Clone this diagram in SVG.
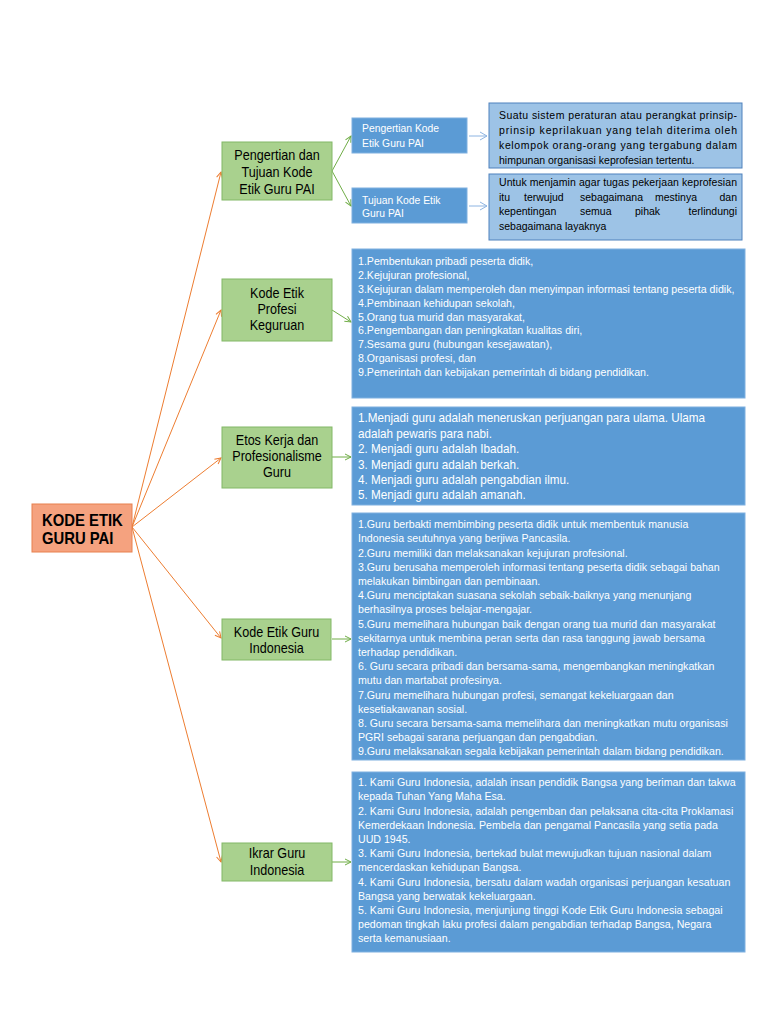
<svg xmlns="http://www.w3.org/2000/svg" width="768" height="1024" viewBox="0 0 768 1024">
<defs>
<style>
.t{font-family:"Liberation Sans",Arial,sans-serif;}
.w{fill:#ffffff;}
.k{fill:#000000;}
.root{fill:#F5A27F;stroke:#E8804E;stroke-width:1;}
.grn{fill:#A9D18E;stroke:#82B866;stroke-width:1;}
.blu{fill:#5B9BD5;stroke:#7FB0E0;stroke-width:1;}
.lbl{fill:#9DC3E6;stroke:#4F81BD;stroke-width:1;}
.co{stroke:#ED7D31;stroke-width:1;fill:none;}
.cg{stroke:#70AD47;stroke-width:1;fill:none;}
.cb{stroke:#8DB4E2;stroke-width:1;fill:none;}
</style>
<marker id="ao" markerWidth="8" markerHeight="8" refX="7" refY="4" orient="auto" markerUnits="userSpaceOnUse"><path d="M1,1 L7,4 L1,7" fill="none" stroke="#ED7D31" stroke-width="1"/></marker>
<marker id="ag" markerWidth="8" markerHeight="8" refX="7" refY="4" orient="auto" markerUnits="userSpaceOnUse"><path d="M1,1 L7,4 L1,7" fill="none" stroke="#70AD47" stroke-width="1"/></marker>
<marker id="ab" markerWidth="10" markerHeight="10" refX="8" refY="5" orient="auto" markerUnits="userSpaceOnUse"><path d="M1,1 L8,5 L1,9" fill="none" stroke="#8DB4E2" stroke-width="1"/></marker>
</defs>
<rect width="768" height="1024" fill="#ffffff"/>

<g id="connectors">
<line class="co" x1="132" y1="527" x2="221" y2="172" marker-end="url(#ao)"/>
<line class="co" x1="132" y1="527" x2="221" y2="310" marker-end="url(#ao)"/>
<line class="co" x1="132" y1="527" x2="221" y2="458" marker-end="url(#ao)"/>
<line class="co" x1="132" y1="527" x2="221" y2="638" marker-end="url(#ao)"/>
<line class="co" x1="132" y1="527" x2="221" y2="862" marker-end="url(#ao)"/>
<line class="cg" x1="332" y1="171" x2="351" y2="136" marker-end="url(#ag)"/>
<line class="cg" x1="332" y1="171" x2="351" y2="206" marker-end="url(#ag)"/>
<line class="cg" x1="332" y1="310" x2="351" y2="322" marker-end="url(#ag)"/>
<line class="cg" x1="332" y1="457" x2="351" y2="457" marker-end="url(#ag)"/>
<line class="cg" x1="332" y1="639" x2="351" y2="639" marker-end="url(#ag)"/>
<line class="cg" x1="332" y1="862" x2="351" y2="862" marker-end="url(#ag)"/>
<line class="cb" x1="469" y1="136" x2="487" y2="136" marker-end="url(#ab)"/>
<line class="cb" x1="469" y1="206" x2="487" y2="206" marker-end="url(#ab)"/>
</g>

<g id="root">
<rect class="root" x="32" y="504" width="100" height="48"/>
<g transform="translate(42 0) scale(0.9 1)">
<text class="t k" x="0" y="526" font-size="16.5" font-weight="bold">KODE ETIK</text>
<text class="t k" x="0" y="544" font-size="16.5" font-weight="bold">GURU PAI</text>
</g>
</g>

<g id="n1">
<rect class="grn" x="222" y="142" width="110" height="58"/>
<g transform="translate(277 0) scale(0.9 1)" text-anchor="middle" font-size="14">
<text class="t k" x="0" y="160">Pengertian dan</text>
<text class="t k" x="0" y="177">Tujuan Kode</text>
<text class="t k" x="0" y="194">Etik Guru PAI</text>
</g>
</g>

<g id="n2">
<rect class="grn" x="222" y="279" width="110" height="62"/>
<g transform="translate(277 0) scale(0.9 1)" text-anchor="middle" font-size="14">
<text class="t k" x="0" y="298">Kode Etik</text>
<text class="t k" x="0" y="314">Profesi</text>
<text class="t k" x="0" y="330">Keguruan</text>
</g>
</g>

<g id="n3">
<rect class="grn" x="222" y="427" width="110" height="61"/>
<g transform="translate(277 0) scale(0.9 1)" text-anchor="middle" font-size="14">
<text class="t k" x="0" y="445">Etos Kerja dan</text>
<text class="t k" x="0" y="461">Profesionalisme</text>
<text class="t k" x="0" y="477">Guru</text>
</g>
</g>

<g id="n4">
<rect class="grn" x="222" y="619" width="109" height="41"/>
<g transform="translate(276.5 0) scale(0.9 1)" text-anchor="middle" font-size="14">
<text class="t k" x="0" y="637">Kode Etik Guru</text>
<text class="t k" x="0" y="653">Indonesia</text>
</g>
</g>

<g id="n5">
<rect class="grn" x="222" y="843" width="110" height="38"/>
<g transform="translate(277 0) scale(0.9 1)" text-anchor="middle" font-size="14">
<text class="t k" x="0" y="858.5">Ikrar Guru</text>
<text class="t k" x="0" y="875.5">Indonesia</text>
</g>
</g>

<g id="s1">
<rect class="blu" x="352" y="118" width="115" height="35"/>
<g transform="translate(362 0) scale(0.9 1)" font-size="11.5">
<text class="t w" x="0" y="132">Pengertian Kode</text>
<text class="t w" x="0" y="147">Etik Guru PAI</text>
</g>
</g>

<g id="s2">
<rect class="blu" x="352" y="188" width="115" height="35"/>
<g transform="translate(362 0) scale(0.9 1)" font-size="11.5">
<text class="t w" x="0" y="204">Tujuan Kode Etik</text>
<text class="t w" x="0" y="217">Guru PAI</text>
</g>
</g>

<g id="d1">
<rect class="lbl" x="489" y="103" width="253" height="65"/>
<g font-size="10.5">
<text class="t k" x="499" y="119" textLength="238" lengthAdjust="spacing">Suatu sistem peraturan atau perangkat prinsip-</text>
<text class="t k" x="499" y="134" textLength="238" lengthAdjust="spacing">prinsip keprilakuan yang telah diterima oleh</text>
<text class="t k" x="499" y="149" textLength="238" lengthAdjust="spacing">kelompok orang-orang yang tergabung dalam</text>
<text class="t k" x="499" y="164">himpunan organisasi keprofesian tertentu.</text>
</g>
</g>

<g id="d2">
<rect class="lbl" x="489" y="174" width="253" height="66"/>
<g font-size="10.5">
<text class="t k" x="499" y="186" textLength="238" lengthAdjust="spacing">Untuk menjamin agar tugas pekerjaan keprofesian</text>
<text class="t k" x="499" y="201">itu</text>
<text class="t k" x="524" y="201">terwujud</text>
<text class="t k" x="580" y="201">sebagaimana</text>
<text class="t k" x="655" y="201">mestinya</text>
<text class="t k" x="737" y="201" text-anchor="end">dan</text>
<text class="t k" x="499" y="215">kepentingan</text>
<text class="t k" x="580" y="215">semua</text>
<text class="t k" x="635" y="215">pihak</text>
<text class="t k" x="737" y="215" text-anchor="end">terlindungi</text>
<text class="t k" x="499" y="230">sebagaimana layaknya</text>
</g>
</g>

<g id="b2">
<rect class="blu" x="352" y="249" width="393" height="149"/>
<g transform="translate(358 0) scale(0.9 1)" font-size="11.8">
<text class="t w" x="0" y="265">1.Pembentukan pribadi peserta didik,</text>
<text class="t w" x="0" y="278.9">2.Kejujuran profesional,</text>
<text class="t w" x="0" y="292.8">3.Kejujuran dalam memperoleh dan menyimpan informasi tentang peserta didik,</text>
<text class="t w" x="0" y="306.7">4.Pembinaan kehidupan sekolah,</text>
<text class="t w" x="0" y="320.6">5.Orang tua murid dan masyarakat,</text>
<text class="t w" x="0" y="334.5">6.Pengembangan dan peningkatan kualitas diri,</text>
<text class="t w" x="0" y="348.4">7.Sesama guru (hubungan kesejawatan),</text>
<text class="t w" x="0" y="362.3">8.Organisasi profesi, dan</text>
<text class="t w" x="0" y="376.2">9.Pemerintah dan kebijakan pemerintah di bidang pendidikan.</text>
</g>
</g>

<g id="b3">
<rect class="blu" x="352" y="407" width="393" height="98"/>
<g transform="translate(358 0) scale(0.9 1)" font-size="13">
<text class="t w" x="0" y="422.5">1.Menjadi guru adalah meneruskan perjuangan para ulama. Ulama</text>
<text class="t w" x="0" y="437.9">adalah pewaris para nabi.</text>
<text class="t w" x="0" y="453.3">2. Menjadi guru adalah Ibadah.</text>
<text class="t w" x="0" y="468.7">3. Menjadi guru adalah berkah.</text>
<text class="t w" x="0" y="484.1">4. Menjadi guru adalah pengabdian ilmu.</text>
<text class="t w" x="0" y="499.5">5. Menjadi guru adalah amanah.</text>
</g>
</g>

<g id="b4">
<rect class="blu" x="352" y="513" width="393" height="247"/>
<g transform="translate(358 0) scale(0.9 1)" font-size="11.8">
<text class="t w" x="0" y="528.3">1.Guru berbakti membimbing peserta didik untuk membentuk manusia</text>
<text class="t w" x="0" y="542.5">Indonesia seutuhnya yang berjiwa Pancasila.</text>
<text class="t w" x="0" y="556.7">2.Guru memiliki dan melaksanakan kejujuran profesional.</text>
<text class="t w" x="0" y="570.9">3.Guru berusaha memperoleh informasi tentang peserta didik sebagai bahan</text>
<text class="t w" x="0" y="585.1">melakukan bimbingan dan pembinaan.</text>
<text class="t w" x="0" y="599.3">4.Guru menciptakan suasana sekolah sebaik-baiknya yang menunjang</text>
<text class="t w" x="0" y="613.5">berhasilnya proses belajar-mengajar.</text>
<text class="t w" x="0" y="627.7">5.Guru memelihara hubungan baik dengan orang tua murid dan masyarakat</text>
<text class="t w" x="0" y="641.9">sekitarnya untuk membina peran serta dan rasa tanggung jawab bersama</text>
<text class="t w" x="0" y="656.1">terhadap pendidikan.</text>
<text class="t w" x="0" y="670.3">6. Guru secara pribadi dan bersama-sama, mengembangkan meningkatkan</text>
<text class="t w" x="0" y="684.5">mutu dan martabat profesinya.</text>
<text class="t w" x="0" y="698.7">7.Guru memelihara hubungan profesi, semangat kekeluargaan dan</text>
<text class="t w" x="0" y="712.9">kesetiakawanan sosial.</text>
<text class="t w" x="0" y="727.1">8. Guru secara bersama-sama memelihara dan meningkatkan mutu organisasi</text>
<text class="t w" x="0" y="741.3">PGRI sebagai sarana perjuangan dan pengabdian.</text>
<text class="t w" x="0" y="755.5">9.Guru melaksanakan segala kebijakan pemerintah dalam bidang pendidikan.</text>
</g>
</g>

<g id="b5">
<rect class="blu" x="352" y="772" width="393" height="180"/>
<g transform="translate(358 0) scale(0.9 1)" font-size="11.8">
<text class="t w" x="0" y="786.3">1. Kami Guru Indonesia, adalah insan pendidik Bangsa yang beriman dan takwa</text>
<text class="t w" x="0" y="800.5">kepada Tuhan Yang Maha Esa.</text>
<text class="t w" x="0" y="814.7">2. Kami Guru Indonesia, adalah pengemban dan pelaksana cita-cita Proklamasi</text>
<text class="t w" x="0" y="828.9">Kemerdekaan Indonesia. Pembela dan pengamal Pancasila yang setia pada</text>
<text class="t w" x="0" y="843.1">UUD 1945.</text>
<text class="t w" x="0" y="857.3">3. Kami Guru Indonesia, bertekad bulat mewujudkan tujuan nasional dalam</text>
<text class="t w" x="0" y="871.5">mencerdaskan kehidupan Bangsa.</text>
<text class="t w" x="0" y="885.7">4. Kami Guru Indonesia, bersatu dalam wadah organisasi perjuangan kesatuan</text>
<text class="t w" x="0" y="899.9">Bangsa yang berwatak kekeluargaan.</text>
<text class="t w" x="0" y="914.1">5. Kami Guru Indonesia, menjunjung tinggi Kode Etik Guru Indonesia sebagai</text>
<text class="t w" x="0" y="928.3">pedoman tingkah laku profesi dalam pengabdian terhadap Bangsa, Negara</text>
<text class="t w" x="0" y="942.5">serta kemanusiaan.</text>
</g>
</g>
</svg>
